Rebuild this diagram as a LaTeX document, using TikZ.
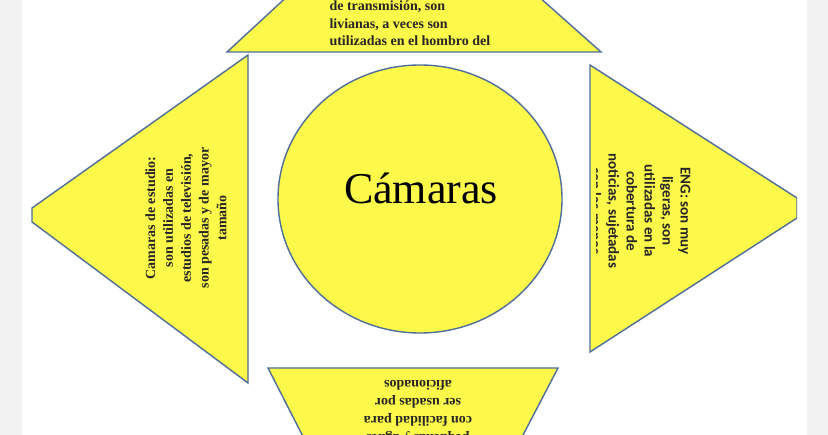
\documentclass[tikz,border=0pt]{standalone}
\usepackage{fontspec}
\setmainfont{Liberation Serif}
\newfontfamily\calib{Carlito}
\definecolor{edge}{HTML}{4E6E9A}
\definecolor{fillY}{HTML}{FCF94A}
\begin{document}
\begin{tikzpicture}[x=1pt,y=-1pt,
  shp/.style={fill=fillY, draw=edge, line width=1.4pt, line join=miter},
  txt/.style={font=\bfseries\fontsize{14}{17.8}\selectfont, text=black!85, align=left}]
\useasboundingbox (0,0) rectangle (828,435);
\fill[gray!10] (0,0) rectangle (22,435);
\fill[gray!10] (807,0) rectangle (828,435);
\begin{scope}
\clip (22,0) rectangle (797,435);
\draw[shp] (227,52) -- (601,52) -- (520,-20) -- (305,-20) -- cycle;
\draw[shp] (268,368) -- (558,368) -- (510,460) -- (315,460) -- cycle;
\draw[shp] (248,55) -- (248,383) -- (32,222) -- (32,208) -- cycle;
\draw[shp] (590,65) -- (590,352) -- (797,218) -- (797,198) -- cycle;
\end{scope}
\draw[shp] (420,199) ellipse[x radius=142, y radius=134];
\node (c) at (421,188) {\fontsize{44}{46}\selectfont Cámaras};
\node[txt, anchor=north west] (t) at (326,-3) {de transmisión, son\\livianas, a veces son\\utilizadas en el hombro del};
\node[txt, align=center, rotate=180, anchor=south] (b) at (418,377) {pequeñas y ágiles\\con facilidad para\\ser usadas por\\aficionados};
\node[txt, align=center, rotate=90] (l) at (186,218) {Camaras de estudio:\\son utilizadas en\\estudios de televisión,\\son pesadas y de mayor\\tamaño};
\begin{scope}
\clip (596,150) rectangle (705,300);
\node[font=\calib\bfseries\fontsize{15}{18}\selectfont, text=black!85, align=center, rotate=-90, anchor=north] (r) at (694,211) {ENG: son muy\\ligeras, son\\utilizadas en la\\cobertura de\\noticias, sujetadas\\con las manos};
\end{scope}
\end{tikzpicture}
\end{document}
